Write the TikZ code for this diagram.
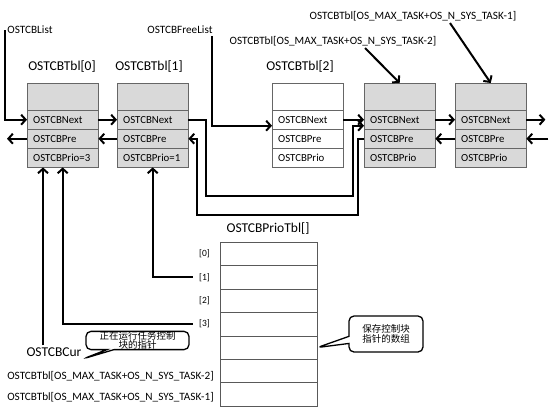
\documentclass[tikz,border=0pt]{standalone}
\usepackage{fontspec}
\setmainfont{Carlito}
\newfontfamily\cjk{Noto Sans CJK SC}
\usetikzlibrary{positioning,arrows.meta,shapes.callouts}
\definecolor{tcbgray}{HTML}{D9D9D9}

\begin{document}
\begin{tikzpicture}[x=1pt,y=-1pt,
	cell/.style={draw=black!60, anchor=north west, minimum width=71pt, minimum height=19pt,
		inner sep=0pt, text width=59pt, align=left, font=\fontsize{10.8}{12}\selectfont},
	prio/.style={draw=black!65, anchor=north west, minimum width=97pt, minimum height=23.4pt, inner sep=0pt},
	big/.style={font=\fontsize{13.5}{15}\selectfont, inner sep=2pt},
	lbl/.style={font=\fontsize{11.2}{13}\selectfont, inner sep=2pt},
	idx/.style={font=\fontsize{9.5}{10}\selectfont, inner sep=2pt},
	link/.style={line width=2pt, -{Straight Barb[length=4.5pt,width=10pt]}},
	note/.style={draw, line width=1.3pt, rounded corners=5pt, rectangle callout, inner sep=0pt,
		align=center, font=\cjk\fontsize{9.5}{9.5}\selectfont}]
	\useasboundingbox (0,0) rectangle (557,416);

	% task control blocks
	\foreach \n/\x/\c/\r in {0/27/tcbgray/{=3}, 1/117/tcbgray/{=1}, 2/272/white/{}, 3/364/tcbgray/{}, 4/455/tcbgray/{}} {
		\node[cell, fill=\c, minimum height=27pt] (b\n h) at (\x,83) {};
		\node[cell, fill=\c] (b\n n) at (\x,110) {OSTCBNext};
		\node[cell, fill=\c] (b\n p) at (\x,129) {OSTCBPre};
		\node[cell, fill=\c] (b\n r) at (\x,148) {OSTCBPrio\r};
	}

	\node[big] (t0) at (62,67) {OSTCBTbl[0]};
	\node[big] (t1) at (149,67) {OSTCBTbl[1]};
	\node[big] (t2) at (300,67) {OSTCBTbl[2]};
	\node[lbl] (lst) at (30,30) {OSTCBList};
	\node[lbl] (fl) at (180,30) {OSTCBFreeList};
	\node[lbl] (m2) at (333,41) {OSTCBTbl[OS\_MAX\_TASK+OS\_N\_SYS\_TASK-2]};
	\node[lbl] (m1) at (413,16) {OSTCBTbl[OS\_MAX\_TASK+OS\_N\_SYS\_TASK-1]};

	% priority table
	\foreach \i in {0,...,6}
		\node[prio] (pt\i) at (220,{242+23.4*\i}) {};
	\foreach \i in {0,...,3}
		\node[idx, left=8pt of pt\i.west] (i\i) {[\i]};
	\node[big] (ptl) at (268,229) {OSTCBPrioTbl[]};
	\node[lbl, left=4pt of pt5.west, yshift=-5pt] (tm2) {OSTCBTbl[OS\_MAX\_TASK+OS\_N\_SYS\_TASK-2]};
	\node[lbl, left=4pt of pt6.west, yshift=-3pt] (tm1) {OSTCBTbl[OS\_MAX\_TASK+OS\_N\_SYS\_TASK-1]};
	\node[big] (cur) at (54,352) {OSTCBCur};

	% notes
	\node[note, minimum width=103pt, minimum height=17pt, callout absolute pointer={(cur.south east)}] (c1)
		at (137.5,340.5) {正在运行任务控制\\块的指针};
	\node[note, minimum width=74pt, minimum height=36pt, callout absolute pointer={(pt4.east)}] (c2)
		at (386,334) {保存控制块\\指针的数组};

	% links
	\draw[link] (lst.west) |- (b0n.west);
	\draw[link] ([xshift=-3pt]fl.south east) |- ([yshift=-6pt]b2n.west);
	\draw[link] (b0n.east) -- (b1n.west);
	\draw[link] (b1p.west) -- (b0p.east);
	\draw[link] (b0p.west) -- ++(-20,0);
	\draw[link] (b1n.east) -- ++(18,0) -- ++(0,76.5) -| ([xshift=-11pt,yshift=-6pt]b3n.west) -- ([yshift=-6pt]b3n.west);
	\draw[link] (b3p.west) -- ++(-6,0) -- ++(0,76.5) -| ([xshift=9pt]b1p.east) -- (b1p.east);
	\draw[link] (b2n.east) -- (b3n.west);
	\draw[link] (b3n.east) -- (b4n.west);
	\draw[link] (b4p.west) -- (b3p.east);
	\draw[link] (b4n.east) -- ++(19,0);
	\draw[link] ([xshift=22pt]b4p.east) -- (b4p.east);
	\draw[link] ([xshift=32pt]m2.south) -- (b3h.north);
	\draw[link] ([xshift=37pt]m1.south) -- (b4h.north);
	\draw[link] ([xshift=-11pt]cur.north) -- ([xshift=-11pt]cur.north |- b0r.south);
	\draw[link] ([xshift=-4pt]i3.west) -| (b0r.south);
	\draw[link] ([xshift=-4pt]i1.west) -| (b1r.south);
\end{tikzpicture}
\end{document}
